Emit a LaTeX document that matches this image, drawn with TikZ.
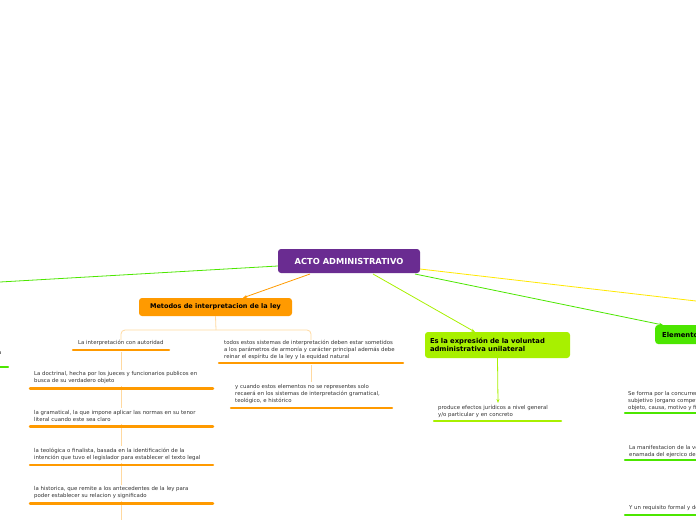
\documentclass[tikz,border=0pt]{standalone}
\usepackage{fontspec}
\setmainfont{DejaVu Sans}
\usetikzlibrary{arrows.meta}
\definecolor{purp}{HTML}{6A2C91}
\definecolor{org}{HTML}{FF9A00}
\definecolor{lorg}{HTML}{FFD9A0}
\definecolor{lime}{HTML}{A8F000}
\definecolor{grn}{HTML}{4CE600}
\definecolor{yel}{HTML}{FFE800}
\definecolor{txt}{HTML}{333333}
\tikzset{
 sm/.style={anchor=west,inner sep=0pt,text=txt,font=\fontsize{5.4}{7}\selectfont,align=left},
 ul/.style={line width=2.5pt,line cap=round},
 topic/.style={rounded corners=3pt,inner sep=0pt,font=\bfseries},
 cn/.style={line width=0.8pt}
}
\begin{document}
\begin{tikzpicture}[x=1pt,y=-1pt]
\useasboundingbox (0,0) rectangle (696,520);
% root
\node[topic,fill=purp,text=white,minimum width=142pt,minimum height=24pt,font=\bfseries\fontsize{8.3}{9}\selectfont] (root) at (349,261) {ACTO ADMINISTRATIVO};
\node[topic,fill=org,text=black,minimum width=153pt,minimum height=18pt,font=\bfseries\fontsize{6.5}{7}\selectfont] (met) at (215.5,307) {Metodos de interpretacion de la ley};
\node[topic,fill=lime,text=black,minimum width=145pt,minimum height=26pt,font=\bfseries\fontsize{6.8}{8}\selectfont,align=left,text width=135pt] (exp) at (497.5,345) {Es la expresión de la voluntad\\administrativa unilateral};
\node[topic,fill=grn,text=black,minimum width=80pt,minimum height=19pt,anchor=west,font=\bfseries\fontsize{6.8}{8}\selectfont,inner xsep=7pt,align=left,text width=66pt] (ele) at (655,334.5) {Elementos};
% connectors
\draw[cn,org,-{Stealth[length=4pt,width=3pt]}] (310,274) -- (met.north -| 243,0);
\draw[cn,grn] (root.west) ++(0,5) coordinate (rl) -- (0,282);
\draw[cn,lime,-{Stealth[length=4pt,width=3pt]}] (373,274) -- (475,332);
\draw[cn,grn,-{Stealth[length=4pt,width=3pt]}] (415,274) -- (663,325);
\draw[cn,yel] (420,269) -- (696,301);
% far-left clipped
\node[sm] (lefta) at (-2,353) {a};
\draw[grn,ul] (-5,367) -- (8,367);
% metodos tree
\draw[cn,lorg] (met.south) -- (216,330);
\draw[cn,lorg,rounded corners=4pt] (121,340) -- (121,330) -- (311,330) -- (311,340);
\node[sm] (a1) at (78,343) {La interpretación con autoridad};
\draw[org,ul] (73,350) -- (169,350);
\draw[cn,lorg] (121,352) -- (121,520);
\foreach \y/\t/\n in {378/{La doctrinal, hecha por los jueces y funcionarios publicos en\\busca de su verdadero objeto}/a2,
  416/{la gramatical, la que impone aplicar las normas en su tenor\\literal cuando este sea claro}/a3,
  454.5/{la teológica o finalista, basada en la identificación de la\\intención que  tuvo el legislador para establecer el texto legal}/a4,
  493/{la historica, que remite a los antecedentes de la ley para\\poder establecer su relacion y significado}/a5}{
  \node[sm,fill=white,inner ysep=2pt] (\n) at (34,\y) {\t};
  \draw[org,ul] (30,\y+10.5) -- (213,\y+10.5);
}
\node[sm] (b1) at (224,349.5) {todos estos sistemas de interpretación deben estar sometidos\\a los parámetros de armonía y carácter principal además debe\\reinar el espíritu de la ley y la equidad natural};
\draw[org,ul] (219,363) -- (403,363);
\draw[cn,lorg] (311,365) -- (311,382);
\node[sm] (b2) at (235,394.5) {y cuando estos elementos no se representes solo\\recaerá en los sistemas de interpretación gramatical,\\teológico, e histórico};
\draw[org,ul] (231,408) -- (392,408);
% expresion
\node[sm] (c1) at (438,411.5) {produce efectos jurídicos a nivel general\\y/o particular y en concreto};
\draw[cn,lime,-{Stealth[length=4pt,width=3pt]}] (exp.south) -- (498,403);
\draw[lime,ul] (434,421) -- (561,421);
% elementos
\node[sm] (d1) at (628,401) {Se forma por la concurrencia de elementos: el\\subjetivo (organo competente), el\\objeto, causa, motivo y fin};
\draw[grn,ul] (625,413) -- (700,413);
\node[sm] (d2) at (629,452) {La manifestacion de la voluntad\\enamada del ejercico de la funcion};
\draw[grn,ul] (625,460) -- (700,460);
\node[sm] (d3) at (629,508) {Y un requisito formal y de publicidad};
\draw[grn,ul] (625,515) -- (700,515);
\end{tikzpicture}
\end{document}
